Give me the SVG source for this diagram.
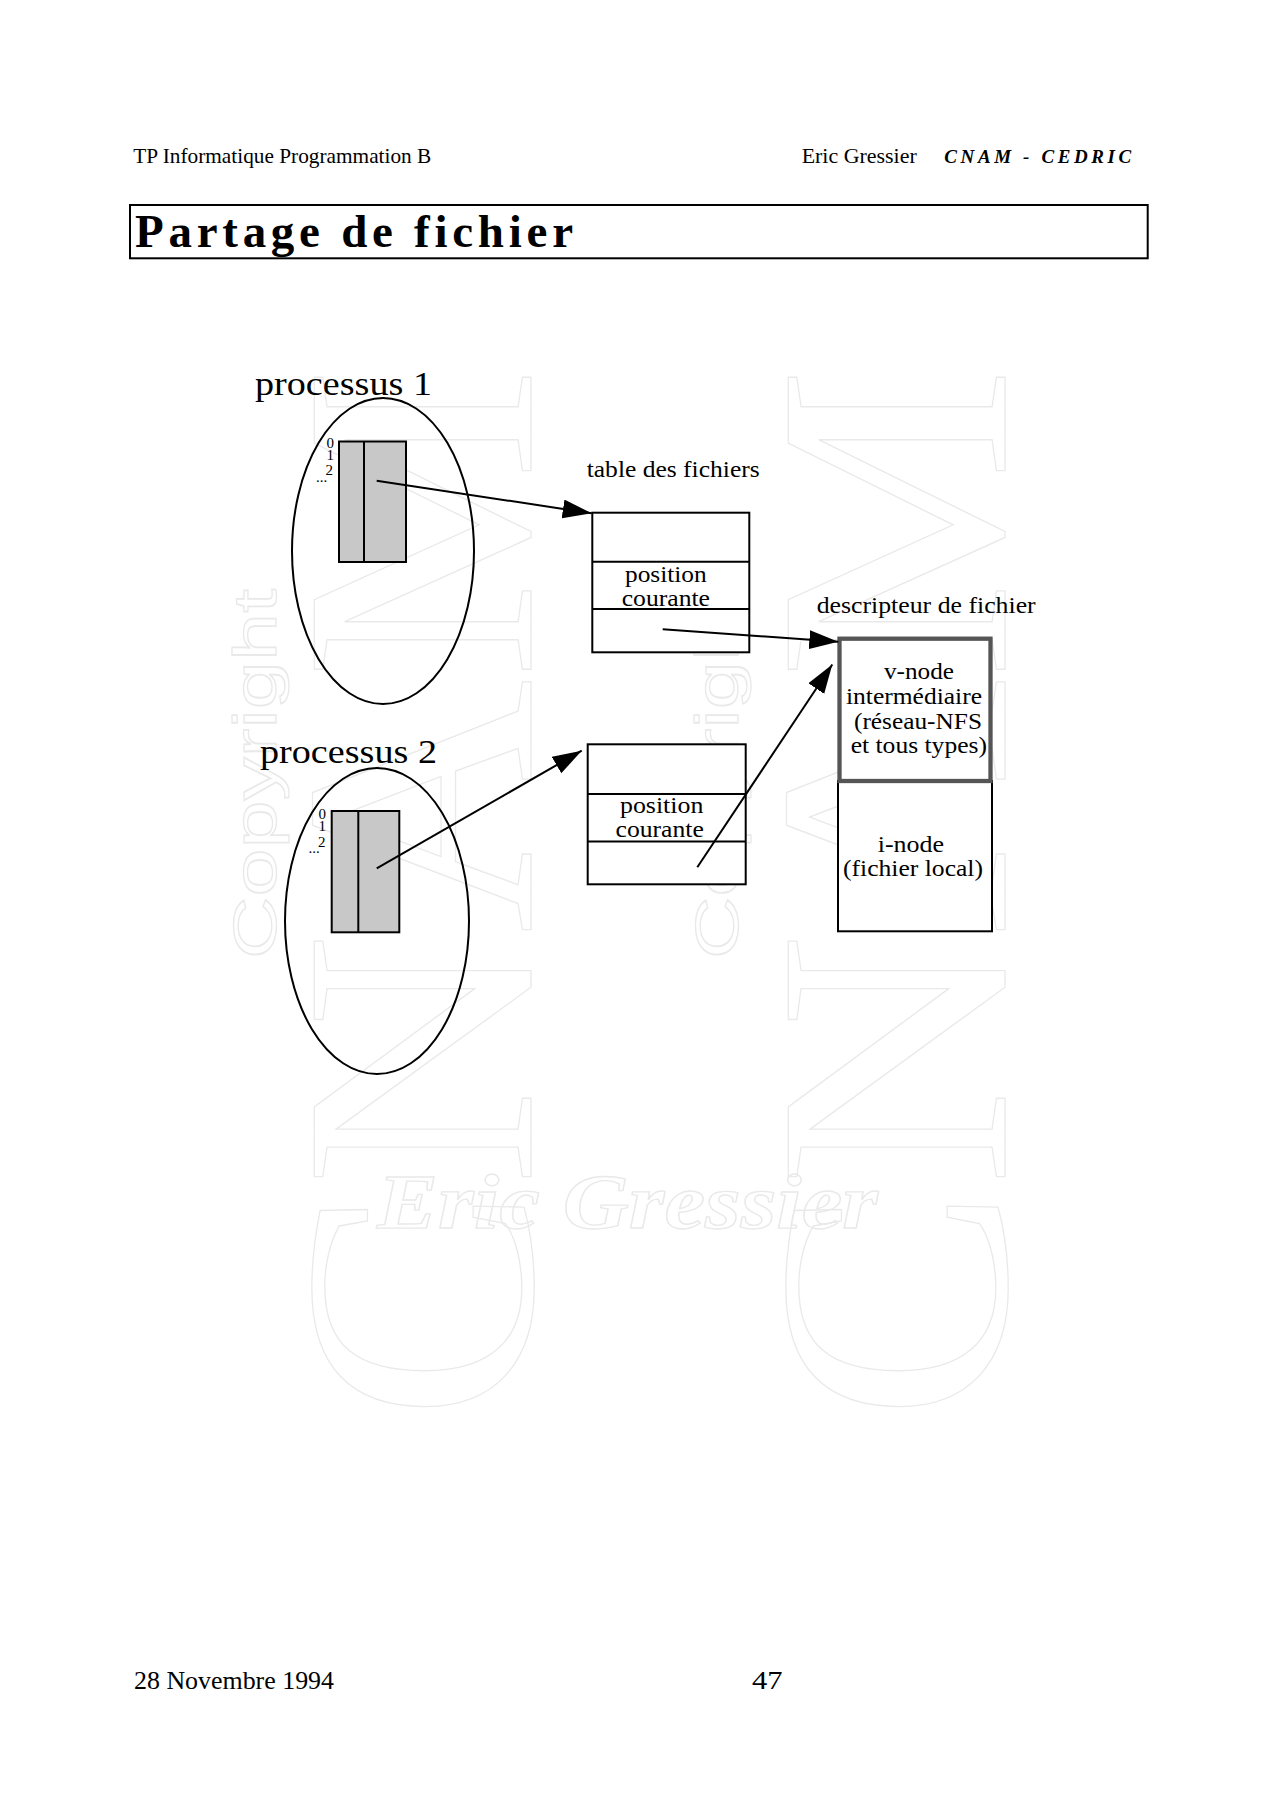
<svg xmlns="http://www.w3.org/2000/svg" width="1280" height="1811" viewBox="0 0 1280 1811">
<style>
.t{font-family:"Liberation Serif","Times New Roman",serif;fill:#000}
.box{fill:#fff;stroke:#000;stroke-width:2}
.ln{fill:none;stroke:#000;stroke-width:2}
.cell{fill:#c8c8c8;stroke:#000;stroke-width:2}
.wm{fill:none;stroke:#e9e9e9;stroke-width:1.3}
.conn{fill:none;stroke:#000;stroke-width:2;marker-end:url(#ah)}
.dg{font-family:"Liberation Serif","Times New Roman",serif;fill:#000;font-size:15px}
</style>
<defs>
<marker id="ah" markerUnits="userSpaceOnUse" markerWidth="30" markerHeight="20" refX="29" refY="9.5" orient="auto">
<path d="M0,0 L29,9.5 L0,19 z" fill="#000"/>
</marker>
</defs>
<rect x="0" y="0" width="1280" height="1811" fill="#fff"/>

<g id="watermark">
<text class="wm" transform="translate(531,1421) rotate(-90)" style="font-family:'Liberation Serif',serif;font-size:331px" textLength="1054" lengthAdjust="spacingAndGlyphs">CNAM</text>
<text class="wm" transform="translate(1005,1421) rotate(-90)" style="font-family:'Liberation Serif',serif;font-size:331px" textLength="1054" lengthAdjust="spacingAndGlyphs">CNAM</text>
<text class="wm" transform="translate(276,959) rotate(-90)" style="font-family:'Liberation Sans',sans-serif;font-size:62px" textLength="370" lengthAdjust="spacingAndGlyphs">Copyright</text>
<text class="wm" transform="translate(738,959) rotate(-90)" style="font-family:'Liberation Sans',sans-serif;font-size:62px" textLength="370" lengthAdjust="spacingAndGlyphs">Copyright</text>
<text class="wm" x="377" y="1228" style="font-family:'Liberation Serif',serif;font-size:78px;font-weight:bold;font-style:italic" textLength="501" lengthAdjust="spacingAndGlyphs">Eric Gressier</text>
</g>

<g id="header">
<text class="t" x="133.3" y="163.3" font-size="21" textLength="298" lengthAdjust="spacingAndGlyphs">TP Informatique Programmation B</text>
<text class="t" x="801.7" y="163.3" font-size="21" textLength="115" lengthAdjust="spacingAndGlyphs">Eric Gressier</text>
<text class="t" x="944.3" y="163.3" font-size="19" font-weight="bold" font-style="italic" textLength="187" lengthAdjust="spacing">CNAM - CEDRIC</text>
</g>

<g id="title">
<rect x="130" y="205" width="1017.7" height="53.3" fill="none" stroke="#000" stroke-width="2"/>
<text class="t" x="135" y="246.7" font-size="47" font-weight="bold" textLength="438" lengthAdjust="spacing">Partage de fichier</text>
</g>

<g id="processus1">
<text class="t" x="255" y="395" font-size="34" textLength="177" lengthAdjust="spacingAndGlyphs">processus 1</text>
<ellipse class="ln" cx="383" cy="551" rx="91" ry="153"/>
<rect class="cell" x="339" y="441.5" width="67" height="120.5"/>
<line class="ln" x1="364" y1="441.5" x2="364" y2="562"/>
<text class="dg" x="326.5" y="447.5">0</text>
<text class="dg" x="326.5" y="460">1</text>
<text class="dg" x="325.5" y="475">2</text>
<text class="dg" x="316" y="482">...</text>
</g>

<g id="processus2">
<text class="t" x="260" y="763.3" font-size="34" textLength="177" lengthAdjust="spacingAndGlyphs">processus 2</text>
<ellipse class="ln" cx="377" cy="921" rx="92" ry="153"/>
<rect class="cell" x="331.7" y="811" width="67.6" height="121.3"/>
<line class="ln" x1="358.3" y1="811" x2="358.3" y2="932.3"/>
<text class="dg" x="318.5" y="818.5">0</text>
<text class="dg" x="318.5" y="831">1</text>
<text class="dg" x="318" y="846.5">2</text>
<text class="dg" x="308.5" y="853">...</text>
</g>

<g id="table1">
<text class="t" x="586.7" y="476.7" font-size="23" textLength="173" lengthAdjust="spacingAndGlyphs">table des fichiers</text>
<rect class="box" x="592.3" y="512.7" width="157" height="139.6"/>
<line class="ln" x1="592.3" y1="561.7" x2="749.3" y2="561.7"/>
<line class="ln" x1="592.3" y1="609" x2="749.3" y2="609"/>
<text class="t" x="625" y="581.7" font-size="24" textLength="81.7" lengthAdjust="spacingAndGlyphs">position</text>
<text class="t" x="621.7" y="606" font-size="24" textLength="88.3" lengthAdjust="spacingAndGlyphs">courante</text>
</g>

<g id="table2">
<rect class="box" x="587.7" y="744.3" width="158" height="140"/>
<line class="ln" x1="587.7" y1="794" x2="745.7" y2="794"/>
<line class="ln" x1="587.7" y1="841.5" x2="745.7" y2="841.5"/>
<text class="t" x="620" y="813.3" font-size="24" textLength="83.3" lengthAdjust="spacingAndGlyphs">position</text>
<text class="t" x="615.5" y="837.3" font-size="24" textLength="88.3" lengthAdjust="spacingAndGlyphs">courante</text>
</g>

<g id="descripteur">
<text class="t" x="816.7" y="613" font-size="23.5" textLength="219" lengthAdjust="spacingAndGlyphs">descripteur de fichier</text>
<rect class="box" x="838" y="781" width="154" height="150.3"/>
<rect x="839.5" y="638.7" width="151" height="142.3" fill="#fff" stroke="#555" stroke-width="4.3"/>
<text class="t" x="884" y="679.3" font-size="24" textLength="70" lengthAdjust="spacingAndGlyphs">v-node</text>
<text class="t" x="846" y="704" font-size="24" textLength="136" lengthAdjust="spacingAndGlyphs">intermédiaire</text>
<text class="t" x="854" y="729" font-size="24" textLength="128" lengthAdjust="spacingAndGlyphs">(réseau-NFS</text>
<text class="t" x="850.7" y="753" font-size="24" textLength="136.3" lengthAdjust="spacingAndGlyphs">et tous types)</text>
<text class="t" x="877.7" y="851.7" font-size="24" textLength="66.3" lengthAdjust="spacingAndGlyphs">i-node</text>
<text class="t" x="843" y="876" font-size="24" textLength="140" lengthAdjust="spacingAndGlyphs">(fichier local)</text>
</g>

<g id="connectors">
<line class="conn" x1="376.7" y1="480.7" x2="591.7" y2="513.3"/>
<line class="conn" x1="376.7" y1="868.3" x2="581.7" y2="750.7"/>
<line class="conn" x1="662.7" y1="629.3" x2="838.3" y2="641.7"/>
<line class="conn" x1="697.3" y1="867.3" x2="832.3" y2="664.5"/>
</g>

<g id="footer">
<text class="t" x="134" y="1689" font-size="25" textLength="200" lengthAdjust="spacingAndGlyphs">28 Novembre 1994</text>
<text class="t" x="752" y="1689" font-size="25" textLength="30.5" lengthAdjust="spacingAndGlyphs">47</text>
</g>
</svg>
